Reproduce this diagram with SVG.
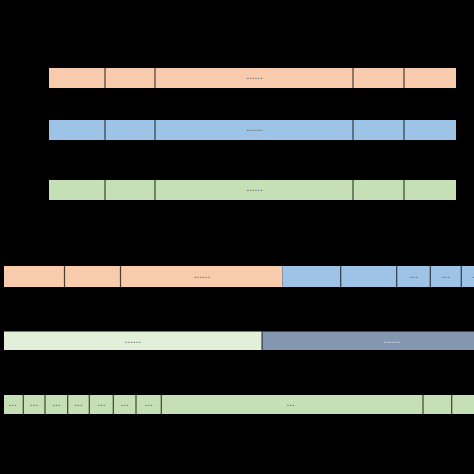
<svg xmlns="http://www.w3.org/2000/svg" width="474" height="474" viewBox="0 0 474 474">
<style>
.div{stroke:#000;stroke-opacity:0.7;stroke-width:1.2}
.t{font-family:"Liberation Sans",Arial,sans-serif;font-size:10px;fill:#555;text-anchor:middle}
.tl{fill:#e8ecf2}
.o{fill:#F8CBAD}.b{fill:#9DC3E6}.g{fill:#C5E0B4}.lg{fill:#E2F0D9}.gb{fill:#8497B0}
</style>
<rect width="474" height="474" fill="#000"/>
<g id="row1">
<rect class="o" x="49" y="68" width="407" height="20"/>
<line class="div" x1="105" y1="68" x2="105" y2="88"/><line class="div" x1="155" y1="68" x2="155" y2="88"/>
<line class="div" x1="353" y1="68" x2="353" y2="88"/><line class="div" x1="404" y1="68" x2="404" y2="88"/>
<text class="t" x="254.5" y="79">......</text>
</g>
<g id="row2">
<rect class="b" x="49" y="120" width="407" height="20"/>
<line class="div" x1="105" y1="120" x2="105" y2="140"/><line class="div" x1="155" y1="120" x2="155" y2="140"/>
<line class="div" x1="353" y1="120" x2="353" y2="140"/><line class="div" x1="404" y1="120" x2="404" y2="140"/>
<text class="t" x="254.5" y="131">......</text>
</g>
<g id="row3">
<rect class="g" x="49" y="180" width="407" height="20"/>
<line class="div" x1="105" y1="180" x2="105" y2="200"/><line class="div" x1="155" y1="180" x2="155" y2="200"/>
<line class="div" x1="353" y1="180" x2="353" y2="200"/><line class="div" x1="404" y1="180" x2="404" y2="200"/>
<text class="t" x="254.5" y="191">......</text>
</g>
<g id="row4">
<rect class="o" x="4" y="266" width="278.5" height="21"/>
<rect class="b" x="282.5" y="266" width="220" height="21"/>
<line class="div" x1="64.5" y1="266" x2="64.5" y2="287"/><line class="div" x1="120.5" y1="266" x2="120.5" y2="287"/>
<line class="div" x1="340.7" y1="266" x2="340.7" y2="287"/><line class="div" x1="396.7" y1="266" x2="396.7" y2="287"/>
<line class="div" x1="430.3" y1="266" x2="430.3" y2="287"/><line class="div" x1="461.3" y1="266" x2="461.3" y2="287"/>
<text class="t" x="202" y="278">......</text>
<text class="t" x="414" y="278">...</text>
<text class="t" x="446" y="278">...</text>
<text class="t" x="476.5" y="278">...</text>
</g>
<g id="row5">
<rect class="lg" x="4" y="331.5" width="258" height="18.5"/>
<rect class="gb" x="262" y="331.5" width="260" height="18.5"/>
<line class="div" x1="262" y1="331.5" x2="262" y2="350"/>
<text class="t" x="133" y="342.5">......</text>
<text class="t tl" x="391.7" y="342.5">......</text>
</g>
<g id="row6">
<rect class="g" x="4" y="395" width="480" height="19"/>
<line class="div" x1="23.3" y1="395" x2="23.3" y2="414"/><line class="div" x1="45" y1="395" x2="45" y2="414"/>
<line class="div" x1="67.7" y1="395" x2="67.7" y2="414"/><line class="div" x1="89.3" y1="395" x2="89.3" y2="414"/>
<line class="div" x1="113.3" y1="395" x2="113.3" y2="414"/><line class="div" x1="136" y1="395" x2="136" y2="414"/>
<line class="div" x1="161.3" y1="395" x2="161.3" y2="414"/><line class="div" x1="423" y1="395" x2="423" y2="414"/>
<line class="div" x1="451.7" y1="395" x2="451.7" y2="414"/>
<text class="t" x="12.5" y="406">...</text><text class="t" x="34" y="406">...</text>
<text class="t" x="56.3" y="406">...</text><text class="t" x="78.5" y="406">...</text>
<text class="t" x="101.3" y="406">...</text><text class="t" x="124.7" y="406">...</text>
<text class="t" x="148.7" y="406">...</text><text class="t" x="290.7" y="406">...</text>
</g>
</svg>
